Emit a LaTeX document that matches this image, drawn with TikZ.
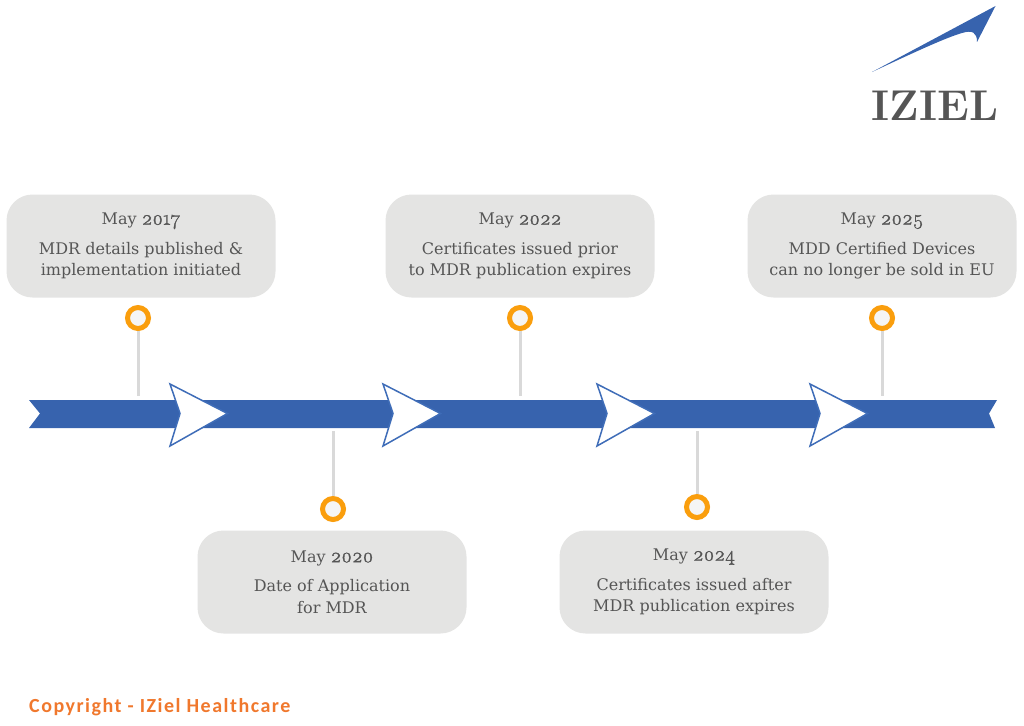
\documentclass[tikz,border=0pt]{standalone}
\usepackage{fontspec}
\setmainfont{DejaVu Serif}
\newfontfamily\copyfont[LetterSpace=7.5]{Carlito}
\newfontfamily\logofont{Latin Modern Roman}
\newfontfamily\yearfont[Numbers=OldStyle,Scale=1.28,FakeBold=1.6]{Latin Modern Roman}
\definecolor{barblue}{HTML}{3763AE}
\definecolor{headblue}{HTML}{3F6DB8}
\definecolor{boxgrey}{HTML}{E4E4E3}
\definecolor{txtgrey}{HTML}{555555}
\definecolor{pinorange}{HTML}{FA9E0D}
\definecolor{stemgrey}{HTML}{D9D9D9}
\definecolor{copyorange}{HTML}{F0782D}
\newcommand{\yr}[1]{{\yearfont #1}}
\tikzset{
    eventbox/.style={fill=boxgrey, rounded corners=26pt, minimum width=269pt, minimum height=103pt,
        text=txtgrey, align=center, font=\fontsize{16}{21.5}\selectfont},
    pin/.style={circle, draw=pinorange, line width=5pt, fill=white!96!black, minimum size=21pt, inner sep=0pt},
    stem/.style={stemgrey, line width=3pt},
}
\begin{document}
\begin{tikzpicture}[x=1pt, y=-1pt]
    \useasboundingbox (0,0) rectangle (1024,725);

    % logo
    \fill[barblue] (995.5,6) -- (872,72)
        .. controls (915,52) and (945,38) .. (962,33)
        .. controls (972,30) and (977,32) .. (977,42) -- cycle;
    \node (logo) at (935,106) {\logofont\bfseries\color{txtgrey}\fontsize{43}{43}\selectfont IZIEL};

    % timeline
    \fill[barblue] (29,400) -- (997,400) -- (989,413.5) -- (995,428) -- (29,428) -- (40,413.5) -- cycle;
    \foreach \x in {170,383,597,810}
        \draw[headblue, fill=white, line width=1.5pt] (\x,384) -- (\x+57.5,413.5) -- (\x,446) -- (\x+10,413.5) -- cycle;

    % events above
    \node[eventbox] (may17) at (141,246) {May \yr{2017}\\[8pt]MDR details published \&\\implementation initiated};
    \node[eventbox] (may22) at (520,246) {May \yr{2022}\\[8pt]Certificates issued prior\\to MDR publication expires};
    \node[eventbox] (may25) at (882,246) {May \yr{2025}\\[8pt]MDD Certified Devices\\can no longer be sold in EU};
    % events below
    \node[eventbox] (may20) at (332,582) {May \yr{2020}\\[8pt]Date of Application\\for MDR};
    \node[eventbox] (may24) at (694,582) {May \yr{2024}\\[8pt]Certificates issued after\\MDR publication expires};

    % pins
    \node[pin] (pin17) at (138,318) {};
    \node[pin] (pin22) at (520,318) {};
    \node[pin] (pin25) at (882,318) {};
    \node[pin] (pin20) at (333,509) {};
    \node[pin] (pin24) at (697,507) {};

    \coordinate (bar17) at (138,396);
    \coordinate (bar22) at (520,396);
    \coordinate (bar25) at (882,396);
    \coordinate (bar20) at (333,431);
    \coordinate (bar24) at (697,431);
    \foreach \p/\b in {pin17/bar17, pin22/bar22, pin25/bar25, pin20/bar20, pin24/bar24}
        \draw[stem] (\p) -- (\b);

    \node[anchor=west, text=copyorange, inner sep=0pt] (copy) at (29,707) {\copyfont\bfseries\fontsize{20}{20}\selectfont Copyright - IZiel Healthcare};
\end{tikzpicture}
\end{document}
